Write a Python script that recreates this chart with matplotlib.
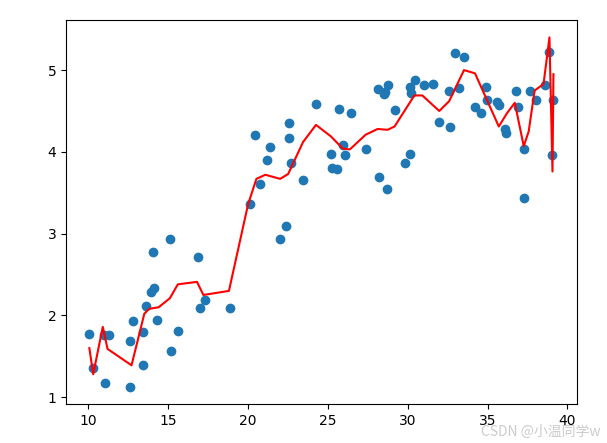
import matplotlib.pyplot as plt

x = [10.06, 10.3, 11.06, 11.0, 11.3, 12.6, 12.6, 12.8, 13.4, 13.4, 13.6, 13.9, 14.1, 14.05,
     14.3, 15.1, 15.2, 15.6, 16.85, 17.0, 17.3, 18.85,
     20.14, 20.45, 20.77, 21.2, 21.39, 22.0, 22.4, 22.57, 22.57, 22.69, 23.44, 24.25, 25.18,
     25.25, 25.56, 25.68, 25.93, 26.05, 26.43, 27.36, 28.11, 28.17, 28.48, 28.6, 28.73,
     28.67, 29.17, 29.85, 30.16, 30.16, 30.22, 30.47, 31.03, 31.59, 31.97, 32.59, 32.65,
     32.96, 33.21, 33.52, 34.21, 34.58, 34.89, 34.95, 35.57, 35.70, 36.07, 36.14, 36.76,
     36.88, 37.26, 37.26, 37.63, 38.0, 38.56, 38.87, 39.06, 39.12]
y = [1.77, 1.36, 1.17, 1.76, 1.76, 1.13, 1.69, 1.93, 1.80, 1.39, 2.12, 2.29, 2.34, 2.77,
     1.94, 2.94, 1.56, 1.81, 2.72, 2.09, 2.19, 2.09,
     3.36, 4.21, 3.61, 3.90, 4.06, 2.93, 3.09, 4.35, 4.17, 3.86, 3.65, 4.58, 3.98,
     3.80, 3.79, 4.52, 4.08, 3.96, 4.48, 4.03, 4.77, 3.69, 4.71, 4.73, 4.82,
     3.54, 4.51, 3.86, 4.79, 3.97, 4.72, 4.88, 4.82, 4.83, 4.36, 4.74, 4.30,
     5.21, 4.78, 5.16, 4.55, 4.48, 4.79, 4.64, 4.61, 4.57, 4.28, 4.23, 4.74,
     4.55, 4.03, 3.44, 4.75, 4.63, 4.82, 5.22, 3.96, 4.64]

line_x = [10.06, 10.3, 10.9, 11.2, 12.7, 13.5, 13.8, 14.4, 15.1, 15.6, 16.8, 17.2, 18.8,
          20.0, 20.52, 21.08, 22.01, 22.51, 23.44, 24.25, 25.18, 25.93, 26.37, 27.36,
          28.11, 28.73, 29.17, 30.41, 30.91, 31.97, 32.59, 33.52, 34.21, 35.70, 36.2,
          36.7, 37.26, 37.57, 37.94, 38.5, 38.87, 39.06, 39.12]
line_y = [1.60, 1.28, 1.86, 1.59, 1.39, 2.02, 2.08, 2.10, 2.21, 2.38, 2.41, 2.25, 2.30,
          3.36, 3.67, 3.72, 3.67, 3.73, 4.12, 4.33, 4.19, 4.04, 4.03, 4.21,
          4.28, 4.27, 4.31, 4.69, 4.69, 4.50, 4.62, 5.00, 4.96, 4.31, 4.47,
          4.60, 4.07, 4.25, 4.75, 4.83, 5.40, 3.76, 4.95]

fig = plt.figure(figsize=(6.07, 4.43), dpi=100)
ax = fig.add_axes([0.109, 0.088, 0.841, 0.867])
ax.scatter(x, y)
ax.plot(line_x, line_y, color='r')
fig.text(0.99, 0.01, 'CSDN @小温同学w', ha='right', va='bottom', color='#cccccc',
         fontsize=10, family=['Noto Sans CJK SC', 'DejaVu Sans'])
plt.savefig('out.png')
